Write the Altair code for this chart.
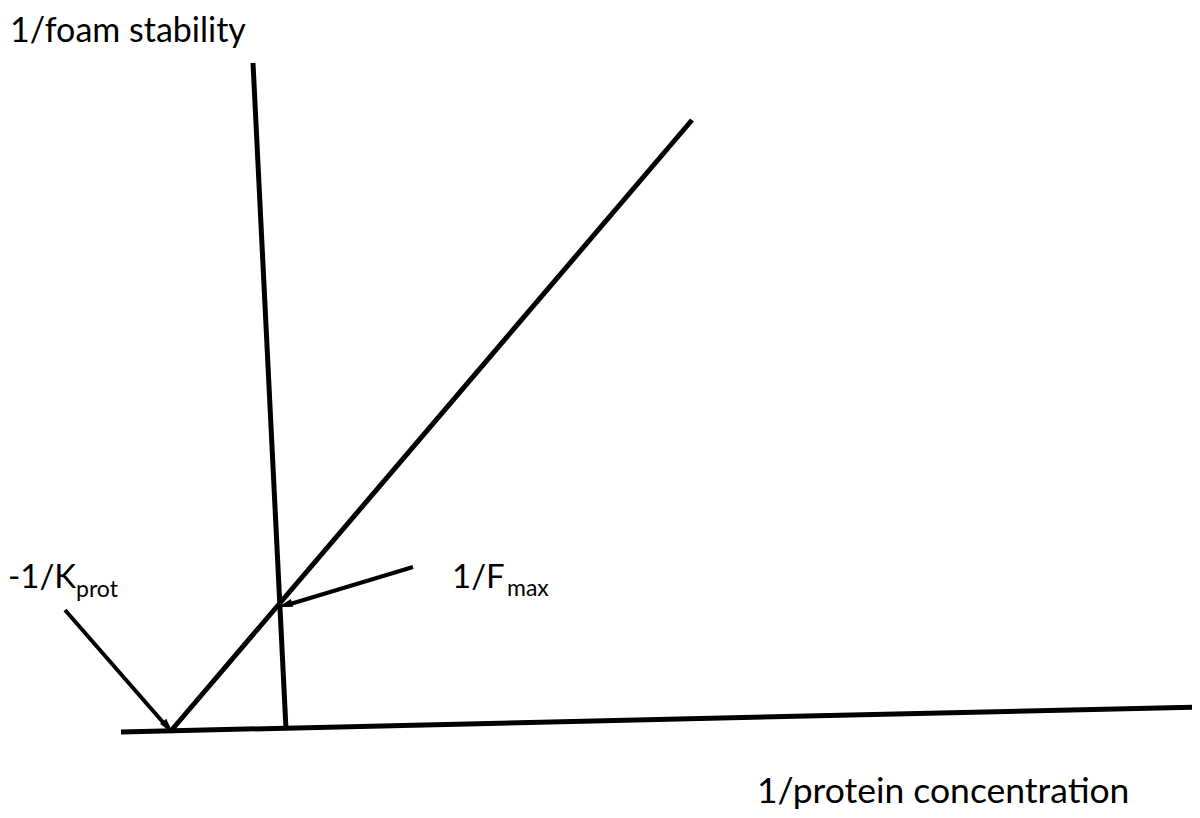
import altair as alt
import pandas as pd

# Schematic line segments (reference coordinates: x to the right, y downward)
seg_name = ["baseline", "vertical", "diagonal", "arrow_k", "arrow_f"]
seg_x1 = [121, 253, 170, 65, 413]
seg_y1 = [732, 63, 732, 610, 567]
seg_x2 = [1198, 286, 692, 168, 287]
seg_y2 = [707, 729, 120, 728, 605]
seg_w = [5, 5, 5, 4, 4]

# Arrow heads
head_x = [168, 285]
head_y = [727, 605]
head_angle = [139, 253]

# Labels
lab_text = ["1/foam stability", "-1/K", "prot", "1/F", "max", "1/protein concentration"]
lab_x = [10, 8, 76, 452, 507, 757]
lab_y = [15, 588, 597, 588, 596, 803]
lab_base = ["top", "alphabetic", "alphabetic", "alphabetic", "alphabetic", "alphabetic"]
lab_size = [34, 33, 23, 33, 23, 35.5]

segs = pd.DataFrame({"name": seg_name, "x1": seg_x1, "y1": seg_y1,
                     "x2": seg_x2, "y2": seg_y2, "w": seg_w})
heads = pd.DataFrame({"x": head_x, "y": head_y, "angle": head_angle})
labs = pd.DataFrame({"text": lab_text, "x": lab_x, "y": lab_y,
                     "size": lab_size, "base": lab_base})

xs = alt.Scale(domain=[8, 1192], nice=False, zero=False)
ys = alt.Scale(domain=[8, 810], nice=False, zero=False, reverse=True)

lines = alt.Chart(segs).mark_rule(color="black", strokeCap="butt", clip=False).encode(
    x=alt.X("x1:Q", scale=xs, axis=None),
    y=alt.Y("y1:Q", scale=ys, axis=None),
    x2="x2:Q",
    y2="y2:Q",
    strokeWidth=alt.StrokeWidth("w:Q", scale=None, legend=None),
)

arrows = alt.Chart(heads).mark_point(
    shape="M0,-1L0.55,1L-0.55,1Z", filled=True, color="black", opacity=1, size=220
).encode(
    x=alt.X("x:Q", scale=xs, axis=None),
    y=alt.Y("y:Q", scale=ys, axis=None),
    angle=alt.Angle("angle:Q", scale=None),
)

def text_layer(base):
    return alt.Chart(labs).transform_filter(
        alt.datum.base == base
    ).mark_text(
        align="left", baseline=base, font="Lato", color="black"
    ).encode(
        x=alt.X("x:Q", scale=xs, axis=None),
        y=alt.Y("y:Q", scale=ys, axis=None),
        text="text:N",
        size=alt.Size("size:Q", scale=None, legend=None),
    )

chart = alt.layer(lines, arrows, text_layer("top"), text_layer("alphabetic")).properties(
    width=1184, height=802, padding=0, autosize=alt.AutoSizeParams(type="none")
).configure_view(stroke=None)

chart.save("out.html", embed_options={"renderer": "svg", "actions": False})
